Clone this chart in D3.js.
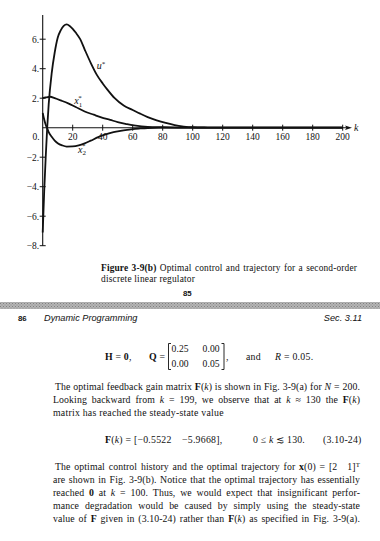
<!DOCTYPE html>
<html><head><meta charset="utf-8">
<script src="https://cdn.jsdelivr.net/npm/d3@7"></script>
<style>html,body{margin:0;padding:0;background:#fff;}svg{display:block;}</style>
</head><body>
<script>
// ---- data ----
const kU     = [0,1,2,3,4,6,8,10,12,14,16,18,20,22,25,28,32,36,40,43,48,54,60,65,70,76,82,88,94,100,110,120,140,160,180,200];
const uStar  = [-7.1,-4.3,-2.0,0,1.6,3.7,5.1,6.1,6.6,6.9,7.0,6.9,6.7,6.45,6.0,5.3,4.4,3.6,3.0,2.6,2.0,1.5,1.2,0.95,0.72,0.5,0.32,0.17,0.08,0.03,0.01,0,0,0,0,0];
const kX1    = [0,2,5,8,12,17,22,28,34,39,45,50,56,62,70,80,90,100,120,200];
const x1Star = [2.0,2.05,2.1,2.0,1.85,1.65,1.4,1.1,0.88,0.7,0.53,0.38,0.25,0.14,0.06,0.03,0.01,0,0,0];
const kX2    = [0,1,2,3,4,6,8,10,13,16,20,24,28,32,37,42,46,50,55,60,65,70,80,100,200];
const x2Star = [1.0,0.55,0.2,-0.05,-0.3,-0.62,-0.87,-1.05,-1.2,-1.28,-1.27,-1.2,-1.06,-0.88,-0.64,-0.45,-0.33,-0.25,-0.16,-0.09,-0.05,-0.02,0,0,0];
const xTicks = [20,40,60,80,100,120,140,160,180,200];
const yTicks = [-8,-6,-4,-2,2,4,6];
const yTickLabels = ["\u22128.","\u22126.","\u22124.","\u22122.","2.","4.","6."];

const W = 380, H = 541;
const serif = "'Liberation Serif','DejaVu Serif',serif";
const sans = "'Liberation Sans','DejaVu Sans',sans-serif";
const ink = "#111";

const svg = d3.select("body").append("svg").attr("width", W).attr("height", H)
  .attr("font-family", serif).attr("fill", ink);
svg.append("rect").attr("width", W).attr("height", H).attr("fill", "#fff");

const x = d3.scaleLinear().domain([0, 200]).range([42.7, 342.7]);
const y = d3.scaleLinear().domain([-8, 6]).range([245.7, 39.2]);

const chart = svg.append("g");
// axes
chart.append("line").attr("x1", x(0)).attr("x2", x(0)).attr("y1", y(-8)).attr("y2", 15)
  .attr("stroke", ink).attr("stroke-width", 1.1);
chart.append("line").attr("x1", x(0)).attr("x2", 348).attr("y1", y(0)).attr("y2", y(0))
  .attr("stroke", ink).attr("stroke-width", 1.1);
chart.append("path").attr("d", `M352,${y(0)} L345,${y(0)-2.3} L346.5,${y(0)} L345,${y(0)+2.3} Z`).attr("fill", ink);
chart.append("text").attr("x", 354).attr("y", y(0)+3).attr("font-size", 10).attr("font-style", "italic").text("k");

// y ticks
chart.selectAll(".yt").data(yTicks).join("line")
  .attr("x1", x(0)-3).attr("x2", x(0)+3).attr("y1", d => y(d)).attr("y2", d => y(d))
  .attr("stroke", ink).attr("stroke-width", 1);
chart.selectAll(".yl").data(yTicks).join("text")
  .attr("x", x(0)-3.5).attr("y", d => y(d)+3.3).attr("text-anchor", "end").attr("font-size", 9.5)
  .text((d, i) => yTickLabels[i]);
chart.append("text").attr("x", x(0)-3).attr("y", y(0)+12).attr("text-anchor", "end").attr("font-size", 9.5).text("0.");
// x ticks
chart.selectAll(".xt").data(xTicks).join("line")
  .attr("x1", d => x(d)).attr("x2", d => x(d)).attr("y1", y(0)-3).attr("y2", y(0)+3)
  .attr("stroke", ink).attr("stroke-width", 1);
chart.selectAll(".xl").data(xTicks).join("text")
  .attr("x", d => x(d)).attr("y", y(0)+12).attr("text-anchor", "middle").attr("font-size", 9.5)
  .text(d => d);

// curves
const line = d3.line().x(d => x(d[0])).y(d => y(d[1])).curve(d3.curveMonotoneX);
[[kU, uStar], [kX1, x1Star], [kX2, x2Star]].forEach(([ks, vs]) => {
  chart.append("path").datum(ks.map((k, i) => [k, vs[i]])).attr("d", line)
    .attr("fill", "none").attr("stroke", ink).attr("stroke-width", 1.8);
});

// curve labels
function curveLabel(k, v, sub) {
  const t = chart.append("text").attr("x", x(k)).attr("y", y(v)).attr("font-size", 10).attr("font-style", "italic");
  t.append("tspan").text(sub ? "x" : "u");
  if (sub) {
    t.append("tspan").attr("font-size", 7).attr("dy", 2.5).attr("font-style", "normal").text(sub);
    t.append("tspan").attr("font-size", 7).attr("dx", -3.8).attr("dy", -7).attr("font-style", "normal").text("*");
  } else {
    t.append("tspan").attr("font-size", 7).attr("dy", -3).attr("font-style", "normal").text("*");
  }
}
curveLabel(36, 4.0, null);
curveLabel(21, 1.6, "1");
curveLabel(23.5, -1.7, "2");

// ---- rich text helpers ----
function addSegs(t, word) {
  const parts = word.split(/(\*[^*]+\*|_[^_]+_|\^[^^]+\^)/).filter(s => s.length);
  parts.forEach(p => {
    if (p[0] === "*") t.append("tspan").attr("font-weight", "bold").text(p.slice(1, -1));
    else if (p[0] === "_") t.append("tspan").attr("font-style", "italic").text(p.slice(1, -1));
    else if (p[0] === "^") t.append("tspan").attr("font-size", "0.7em").attr("dy", -3.5).text(p.slice(1, -1));
    else t.append("tspan").text(p);
  });
}
// words placed one by one; justified lines spread the spare room over the gaps
function textLine(xx, yy, markup, size, opts = {}) {
  const words = markup.split(" ");
  const nodes = words.map(w => {
    const t = svg.append("text").attr("y", yy).attr("font-size", size);
    if (opts.family) t.attr("font-family", opts.family);
    addSegs(t, w); return t;
  });
  const chars = words.map(w => w.replace(/[*_^]/g, "").length);
  const base = nodes.map(n => n.node().getComputedTextLength());
  let ls = opts.ls === undefined ? 0.1 : opts.ls;
  const n = words.length;
  if (opts.right && n > 1) {
    const minGap = size * 0.25;
    const room = opts.right - xx - d3.sum(base) - minGap * (n - 1);
    ls = Math.max(-0.3, Math.min(ls, room / d3.sum(chars)));
  }
  nodes.forEach(nd => nd.attr("letter-spacing", ls));
  const widths = base.map((b, i) => b + ls * chars[i]);
  const total = d3.sum(widths);
  const gap = (opts.right && n > 1) ? (opts.right - xx - total) / (n - 1) : size * 0.27;
  let cx = xx;
  nodes.forEach((nd, i) => { nd.attr("x", cx); cx += widths[i] + gap; });
}

// caption
textLine(101, 271, "*Figure* *3-9(b)* Optimal control and trajectory for a second-order", 9.4, {right: 357, ls: 0.15});
textLine(101, 282, "discrete linear regulator", 9.4, {ls: 0.2});
svg.append("text").attr("x", 183).attr("y", 296).attr("font-family", sans).attr("font-weight", "bold")
  .attr("font-size", 7.8).text("85");

// page separator band
const defs = svg.append("defs");
const pat = defs.append("pattern").attr("id", "dith").attr("width", 3).attr("height", 3).attr("patternUnits", "userSpaceOnUse");
pat.append("rect").attr("width", 3).attr("height", 3).attr("fill", "#b4b4b4");
pat.append("rect").attr("width", 1).attr("height", 1).attr("fill", "#808080");
pat.append("rect").attr("x", 1.5).attr("y", 1.5).attr("width", 1).attr("height", 1).attr("fill", "#8e8e8e");
svg.append("rect").attr("x", 0).attr("y", 302).attr("width", W).attr("height", 7).attr("fill", "url(#dith)");

// page header
svg.append("text").attr("x", 18).attr("y", 321).attr("font-family", sans).attr("font-weight", "bold").attr("font-size", 7.8).text("86");
svg.append("text").attr("x", 44).attr("y", 321).attr("font-family", sans).attr("font-style", "italic").attr("font-size", 9.2).text("Dynamic Programming");
svg.append("text").attr("x", 362).attr("y", 321).attr("text-anchor", "end").attr("font-family", sans).attr("font-style", "italic").attr("font-size", 9.2).text("Sec.  3.11");

// H, Q, R line
const fs = 9.8;
textLine(105, 360, "*H* = *0*,", fs, {ls: 0.2});
textLine(149, 360, "*Q* =", fs, {ls: 0.2});
svg.append("path").attr("d", "M171,343.5 L168.5,343.5 L168.5,369.5 L171,369.5").attr("fill", "none").attr("stroke", ink).attr("stroke-width", 0.9);
svg.append("path").attr("d", "M221.5,343.5 L224,343.5 L224,369.5 L221.5,369.5").attr("fill", "none").attr("stroke", ink).attr("stroke-width", 0.9);
textLine(171.5, 352, "0.25", 9.6); textLine(202.5, 352, "0.00", 9.6);
textLine(171.5, 367, "0.00", 9.6); textLine(202.5, 367, "0.05", 9.6);
textLine(226, 360, ",", fs);
textLine(246, 360, "and", fs, {ls: 0.2});
textLine(275, 360, "_R_ = 0.05.", fs, {ls: 0.3});

// paragraph 1
textLine(55, 390, "The optimal feedback gain matrix *F*(_k_) is shown in Fig. 3-9(a) for _N_ = 200.", fs, {right: 360});
textLine(53, 403, "Looking backward from _k_ = 199, we observe that at _k_ \u2248 130 the *F*(_k_)", fs, {right: 360});
textLine(53, 416, "matrix has reached the steady-state value", fs, {ls: 0.25});

// equation
textLine(105, 443, "*F*(_k_) = [\u22120.5522", fs, {ls: 0.25});
textLine(182, 443, "\u22125.9668],", fs, {ls: 0.25});
textLine(253, 443, "0 \u2264 _k_ \u2272 130.", fs, {ls: 0.2});
textLine(323, 443, "(3.10-24)", fs, {ls: 0.2});

// paragraph 2
textLine(55, 470, "The optimal control history and the optimal trajectory for *x*(0) = [2\u2002\u20021]^T^", fs, {right: 360});
textLine(53, 483, "are shown in Fig. 3-9(b). Notice that the optimal trajectory has essentially", fs, {right: 360});
textLine(53, 496, "reached *0* at _k_ = 100. Thus, we would expect that insignificant perfor-", fs, {right: 360});
textLine(53, 509, "mance degradation would be caused by simply using the steady-state", fs, {right: 360});
textLine(53, 522, "value of *F* given in (3.10-24) rather than *F*(_k_) as specified in Fig. 3-9(a).", fs, {right: 360});
</script>
</body></html>
